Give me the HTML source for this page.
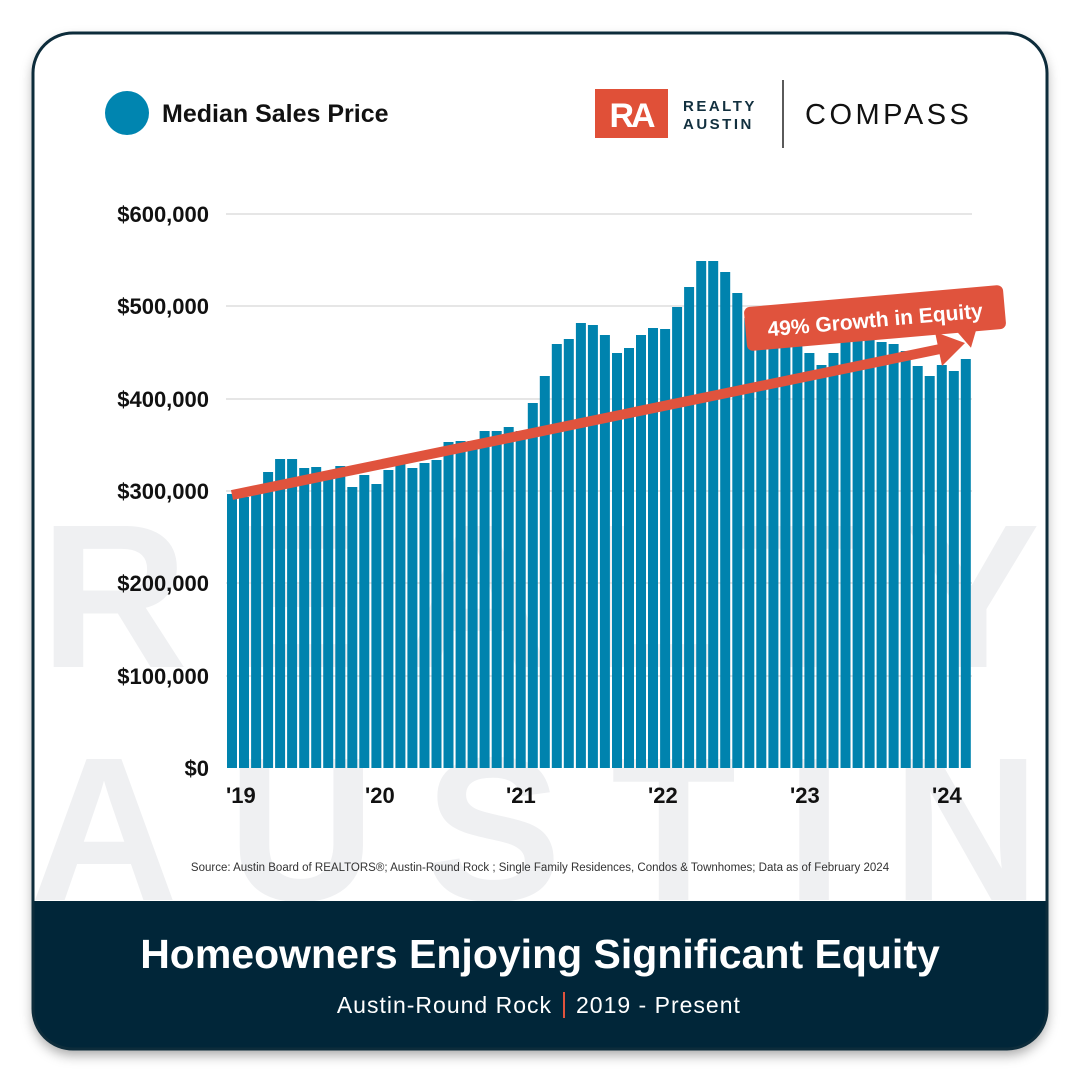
<!DOCTYPE html>
<html><head><meta charset="utf-8"><style>
html,body{margin:0;padding:0;background:#fff;}
svg{display:block;}
</style></head><body>
<svg width="1080" height="1080" viewBox="0 0 1080 1080" xmlns="http://www.w3.org/2000/svg" font-family="Liberation Sans, sans-serif">
<defs>
<filter id="sh" x="-5%" y="-5%" width="110%" height="110%"><feDropShadow dx="0" dy="6" stdDeviation="6" flood-color="#000" flood-opacity="0.35"/></filter>
<clipPath id="card"><rect x="33" y="33" width="1014" height="1016" rx="40"/></clipPath>
</defs>
<rect x="0" y="0" width="1080" height="1080" fill="#fff"/>
<rect x="33" y="33" width="1014" height="1016" rx="40" fill="#fff" filter="url(#sh)"/>
<g clip-path="url(#card)">
<rect x="33" y="33" width="1014" height="1016" fill="#fff"/>
<g fill="#eff0f2" font-weight="bold" font-size="205">
<text x="40" y="667" textLength="1000" lengthAdjust="spacing">REALTY</text>
<text x="30" y="900" textLength="1010" lengthAdjust="spacing">AUSTIN</text>
</g>
<rect x="33" y="901" width="1014" height="150" fill="#012639"/>
</g>
<rect x="33" y="33" width="1014" height="1016" rx="40" fill="none" stroke="#0d2c3b" stroke-width="3"/>

<circle cx="127" cy="113" r="22" fill="#0085b0"/>
<text x="162" y="122" font-size="25" font-weight="bold" fill="#111">Median Sales Price</text>

<rect x="595" y="89" width="73" height="49" fill="#e05038"/>
<text x="631" y="127" font-size="34" font-weight="bold" fill="#fff" text-anchor="middle" letter-spacing="-3">RA</text>
<text x="683" y="111" font-size="15" font-weight="bold" fill="#12303f" letter-spacing="2.5">REALTY</text>
<text x="683" y="129" font-size="15" font-weight="bold" fill="#12303f" letter-spacing="2.5">AUSTIN</text>
<line x1="783" y1="80" x2="783" y2="148" stroke="#222" stroke-width="1.5"/>
<text x="805" y="124" font-size="29" fill="#111" letter-spacing="3.5">COMPASS</text>

<g stroke="#ddd" stroke-width="1.5">
<line x1="226" y1="214" x2="972" y2="214"/><line x1="226" y1="306" x2="972" y2="306"/>
<line x1="226" y1="399" x2="972" y2="399"/><line x1="226" y1="491" x2="972" y2="491"/>
<line x1="226" y1="583" x2="972" y2="583"/><line x1="226" y1="676" x2="972" y2="676"/>
</g>
<g font-size="22" font-weight="bold" fill="#111" text-anchor="end">
<text x="209" y="222">$600,000</text><text x="209" y="314">$500,000</text>
<text x="209" y="407">$400,000</text><text x="209" y="499">$300,000</text>
<text x="209" y="591">$200,000</text><text x="209" y="684">$100,000</text>
<text x="209" y="776">$0</text>
</g>
<g id="bars" fill="#0083ae"></g>
<g font-size="22" font-weight="bold" fill="#111">
<text x="226" y="803">'19</text><text x="365" y="803">'20</text><text x="506" y="803">'21</text>
<text x="648" y="803">'22</text><text x="790" y="803">'23</text><text x="932" y="803">'24</text>
</g>
<text x="540" y="871" font-size="11.5" fill="#333" text-anchor="middle">Source: Austin Board of REALTORS®; Austin-Round Rock ; Single Family Residences, Condos &amp; Townhomes; Data as of February 2024</text>

<line x1="232" y1="495" x2="945" y2="348" stroke="#e0533d" stroke-width="10"/>
<polygon points="965,343 935,332 942,366" fill="#e0533d"/>
<g transform="rotate(-5 875 318)">
<rect x="745" y="296" width="260" height="44" rx="6" fill="#e0533d"/>
<polygon points="955,338 975,338 968,356" fill="#e0533d"/>
<text x="875" y="327" font-size="21" font-weight="bold" fill="#fff" text-anchor="middle">49% Growth in Equity</text>
</g>

<text x="540" y="968" font-size="41" font-weight="bold" fill="#fff" text-anchor="middle">Homeowners Enjoying Significant Equity</text>
<text x="552" y="1013" font-size="23" fill="#fff" text-anchor="end" letter-spacing="1">Austin-Round Rock</text>
<line x1="564" y1="992" x2="564" y2="1018" stroke="#e0533d" stroke-width="2"/>
<text x="576" y="1013" font-size="23" fill="#fff" letter-spacing="1">2019 - Present</text>
</svg>
<script>
var tops=[494,497,486,472,459,459,468,467,472,466,487,475,484,470,458,468,463,460,442,441,441,431,431,427,431,403,376,344,339,323,325,
335,353,348,335,328,329,307,287,261,261,272,293,318,330,338,343,346,353,365,353,337,336,333,342,344,351,366,376,365,371,359];
var g=document.getElementById('bars'),s='';
for(var i=0;i<tops.length;i++){var x=227+i*12.03;s+='<rect x="'+x.toFixed(1)+'" y="'+tops[i]+'" width="10" height="'+(768-tops[i])+'"/>';}
g.innerHTML=s;
</script>
</body></html>
